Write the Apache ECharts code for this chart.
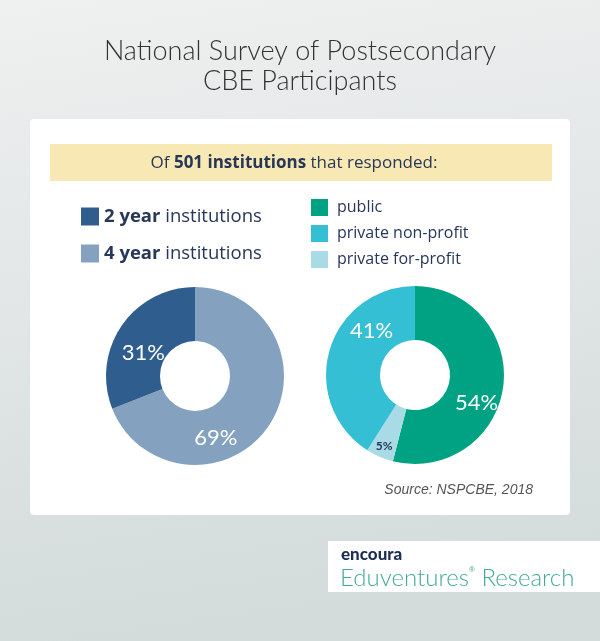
<!DOCTYPE html>
<html>
<head>
<meta charset="utf-8">
<script src="https://cdn.jsdelivr.net/npm/echarts@6/dist/echarts.min.js"></script>
<style>
  html, body { margin: 0; padding: 0; }
  #chart { width: 600px; height: 641px; }
</style>
</head>
<body>
<div id="chart"></div>
<script>
// data
const levelNames = ['2 year institutions', '4 year institutions'];
const levelValues = [31, 69];
const levelColors = ['#2f5e8e', '#84a2c0'];

const controlNames = ['public', 'private non-profit', 'private for-profit'];
const controlValues = [54, 41, 5];
const controlColors = ['#00a284', '#34bfd5', '#a9dbe6'];

const totalInstitutions = 501;
const sourceText = 'Source: NSPCBE, 2018';

const FONT = '"Open Sans", Lato, sans-serif';
const NUM_FONT = 'Lato, "Open Sans", sans-serif';
const NAVY = '#27375a';

// label nudges so the numbers sit where the original put them
const levelLabelOffset = [[2, 13], [-33, 25]];
const controlLabelOffset = [[-3, 20], [19, -26], [-5, 11]];

const chart = echarts.init(document.getElementById('chart'));

// left pie: 4-year first, so it starts at 12 o'clock going clockwise
const levelData = [1, 0].map(i => ({
  name: levelNames[i],
  value: levelValues[i],
  itemStyle: { color: levelColors[i] },
  label: { offset: levelLabelOffset[i] }
}));

// right pie: public, then for-profit, then non-profit (clockwise)
const controlData = [0, 2, 1].map(i => ({
  name: controlNames[i],
  value: controlValues[i],
  itemStyle: { color: controlColors[i] },
  label: i === 2
    ? { offset: controlLabelOffset[i], color: NAVY, fontSize: 12, fontWeight: 'bold' }
    : { offset: controlLabelOffset[i] }
}));

const pieBase = {
  type: 'pie',
  radius: [35, 89],
  startAngle: 90,
  clockwise: true,
  silent: true,
  animation: false,
  avoidLabelOverlap: false,
  labelLine: { show: false },
  label: {
    show: true,
    position: 'inside',
    formatter: '{c}%',
    color: '#ffffff',
    fontFamily: NUM_FONT,
    fontSize: 22,
    fontWeight: 'normal'
  }
};

const option = {
  backgroundColor: new echarts.graphic.LinearGradient(0, 0, 0.15, 1, [
    { offset: 0, color: '#eff0f0' },
    { offset: 1, color: '#d3dbdb' }
  ]),
  title: {
    text: 'National Survey of Postsecondary\nCBE Participants',
    left: 'center',
    top: 31,
    textStyle: {
      fontFamily: NUM_FONT,
      fontSize: 27,
      fontWeight: 300,
      color: '#333333',
      lineHeight: 30
    }
  },
  graphic: [
    {
      type: 'rect', z: -1,
      shape: { x: 30, y: 119, width: 540, height: 396, r: 4 },
      style: { fill: '#ffffff' }
    },
    {
      type: 'rect', z: 0,
      shape: { x: 50, y: 144, width: 502, height: 37 },
      style: { fill: '#f8e9b4' }
    },
    {
      type: 'text', z: 1,
      x: 294, y: 163,
      style: {
        text: 'Of {b|' + totalInstitutions + ' institutions} that responded:',
        align: 'center',
        verticalAlign: 'middle',
        fontFamily: FONT,
        fontSize: 17,
        fill: NAVY,
        rich: { b: { fontFamily: FONT, fontSize: 17, fontWeight: 'bold', fill: NAVY } }
      }
    },
    {
      type: 'text', z: 1,
      x: 533, y: 490,
      style: {
        text: sourceText,
        align: 'right',
        verticalAlign: 'middle',
        fontFamily: 'Arial, "Liberation Sans", sans-serif',
        fontStyle: 'italic',
        fontSize: 14,
        fill: '#555555'
      }
    },
    {
      type: 'rect', z: 0,
      shape: { x: 328, y: 541, width: 272, height: 51 },
      style: { fill: '#ffffff' }
    },
    {
      type: 'text', z: 1,
      x: 341, y: 555,
      style: {
        text: 'encoura',
        verticalAlign: 'middle',
        fontFamily: NUM_FONT,
        fontSize: 17,
        fontWeight: 900,
        fill: '#1c2e55'
      }
    },
    {
      type: 'text', z: 1,
      x: 340, y: 578,
      style: {
        text: 'Eduventures{r|®} Research',
        verticalAlign: 'middle',
        fontFamily: NUM_FONT,
        fontSize: 24,
        fontWeight: 300,
        fill: '#42ab94',
        rich: { r: { fontSize: 8, fill: '#42ab94', verticalAlign: 'top', padding: [0, 0, 10, 0] } }
      }
    }
  ],
  legend: [
    {
      data: levelNames,
      orient: 'vertical',
      left: 76,
      top: 202,
      icon: 'rect',
      itemWidth: 18,
      itemHeight: 18,
      itemGap: 18,
      selectedMode: false,
      formatter: name => {
        const parts = name.split(' ');
        return '{b|' + parts[0] + ' ' + parts[1] + '} ' + parts.slice(2).join(' ');
      },
      textStyle: {
        fontFamily: FONT,
        fontSize: 18.5,
        color: NAVY,
        rich: { b: { fontFamily: FONT, fontSize: 18.5, fontWeight: 'bold', color: NAVY } }
      }
    },
    {
      data: controlNames,
      orient: 'vertical',
      left: 306,
      top: 194,
      icon: 'rect',
      itemWidth: 17,
      itemHeight: 17,
      itemGap: 9,
      selectedMode: false,
      textStyle: {
        fontFamily: FONT,
        fontSize: 16,
        color: NAVY,
        padding: [0, 0, 0, 4]
      }
    }
  ],
  series: [
    Object.assign({}, pieBase, { name: 'level', center: [195, 376], data: levelData }),
    Object.assign({}, pieBase, { name: 'control', center: [415, 375], data: controlData })
  ]
};

chart.setOption(option);
</script>
</body>
</html>
